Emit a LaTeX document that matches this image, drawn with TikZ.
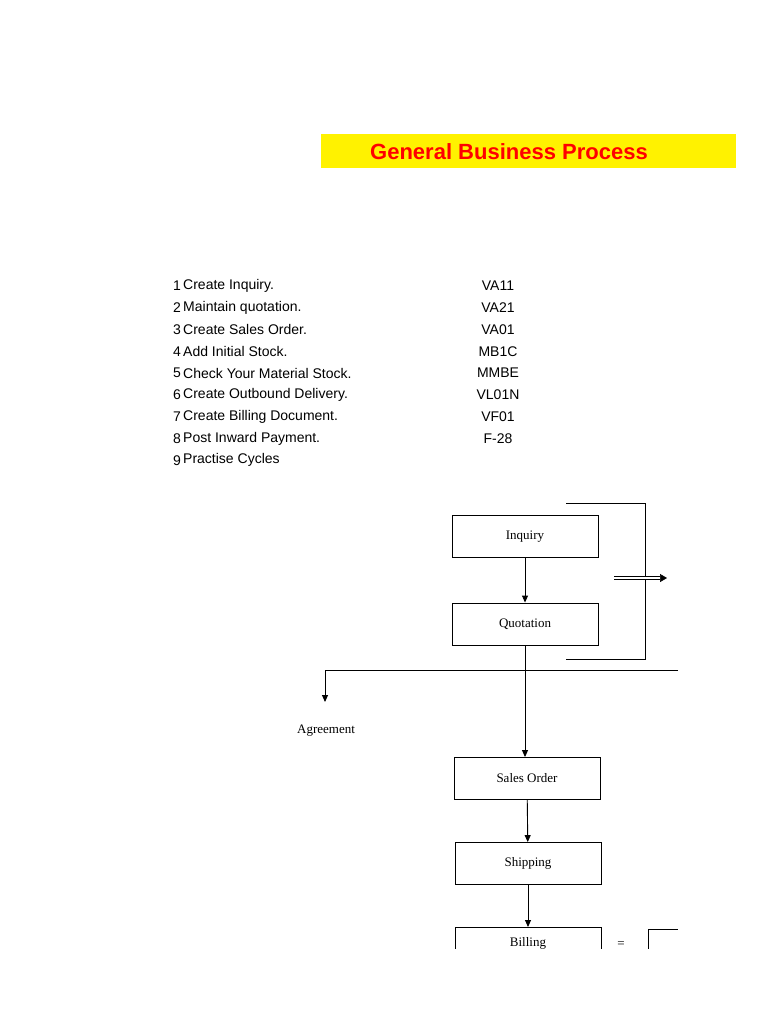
\documentclass[tikz,border=0pt]{standalone}
\usepackage{fontspec}
\setmainfont{Liberation Serif}
\newfontfamily\sans{Liberation Sans}
\usetikzlibrary{arrows.meta}
\begin{document}
\begin{tikzpicture}[x=1pt,y=-1pt,
  box/.style={draw,line width=0.9pt,minimum width=146pt,minimum height=42pt,inner sep=0pt,font=\fontsize{13}{15}\selectfont},
  li/.style={font=\sans\fontsize{14}{16}\selectfont,inner sep=0pt},
  arr/.style={-{Triangle[length=7pt,width=6pt]},line width=0.9pt}]
\useasboundingbox (0,0) rectangle (768,1024);
\fill[white] (0,0) rectangle (768,1024);
\begin{scope}
\clip (321,134) rectangle (736,168);
\fill[yellow] (321,134) rectangle (736,168);
\node[anchor=west,text=red,font=\sans\bfseries\fontsize{22}{24}\selectfont,inner sep=0pt] (title) at (370,152) {General Business Process};
\end{scope}
\foreach \n/\t/\c [count=\i] in {1/Create Inquiry./VA11,2/Maintain quotation./VA21,3/Create Sales Order./VA01,4/Add Initial Stock./MB1C,5/Check Your Material Stock./MMBE,6/Create Outbound Delivery./VL01N,7/Create Billing Document./VF01,8/Post Inward Payment./F-28,9/Practise Cycles/}{
  \node[li,anchor=east] (n\i) at (181,{264+21.8*\i}) {\n};
  \node[li,anchor=west] (t\i) at (183,{264+21.8*\i}) {\t};
  \node[li] (c\i) at (498,{264+21.8*\i}) {\c};
}
\begin{scope}
\clip (0,0) rectangle (768,948);
\node[box] (inq) at (525,536.5) {Inquiry};
\node[box] (quo) at (525,624) {Quotation};
\node[box] (so) at (527,778.5) {Sales Order};
\node[box] (sh) at (528,863.5) {Shipping};
\node[box,anchor=north] (bi) at (528,927) {};
\node[font=\fontsize{13}{15}\selectfont,inner sep=0pt] (bil) at (528,943) {Billing};
\draw[arr] (inq) -- (quo);
\draw[arr] (quo.south) -- (so.north-|quo.south);
\draw[arr] (so) -- (sh);
\draw[arr] (sh) -- (bi);
\coordinate (b1) at (566,503); \coordinate (b2) at (645,503);
\coordinate (b3) at (645,659); \coordinate (b4) at (566,659);
\draw[line width=0.9pt] (b1) -- (b2) -- (b3) -- (b4);
\coordinate (d1) at (614,578); \coordinate (d2) at (667,578);
\draw[line width=0.6pt,double distance=2pt,-{Triangle[length=7pt,width=8pt]}] (d1) -- (d2);
\coordinate (h1) at (325,670); \coordinate (h2) at (678,670); \coordinate (h3) at (325,702);
\draw[line width=0.9pt] (h2) -- (h1);
\draw[arr] (h1) -- (h3);
\node[font=\fontsize{13}{15}\selectfont,inner sep=0pt] (agr) at (326,731) {Agreement};
\node[font=\fontsize{13}{15}\selectfont,inner sep=0pt] (eq) at (621,945) {=};
\coordinate (r1) at (648,950); \coordinate (r2) at (648,929); \coordinate (r3) at (678,929);
\draw[line width=0.9pt] (r1) -- (r2) -- (r3);
\end{scope}
\end{tikzpicture}
\end{document}
